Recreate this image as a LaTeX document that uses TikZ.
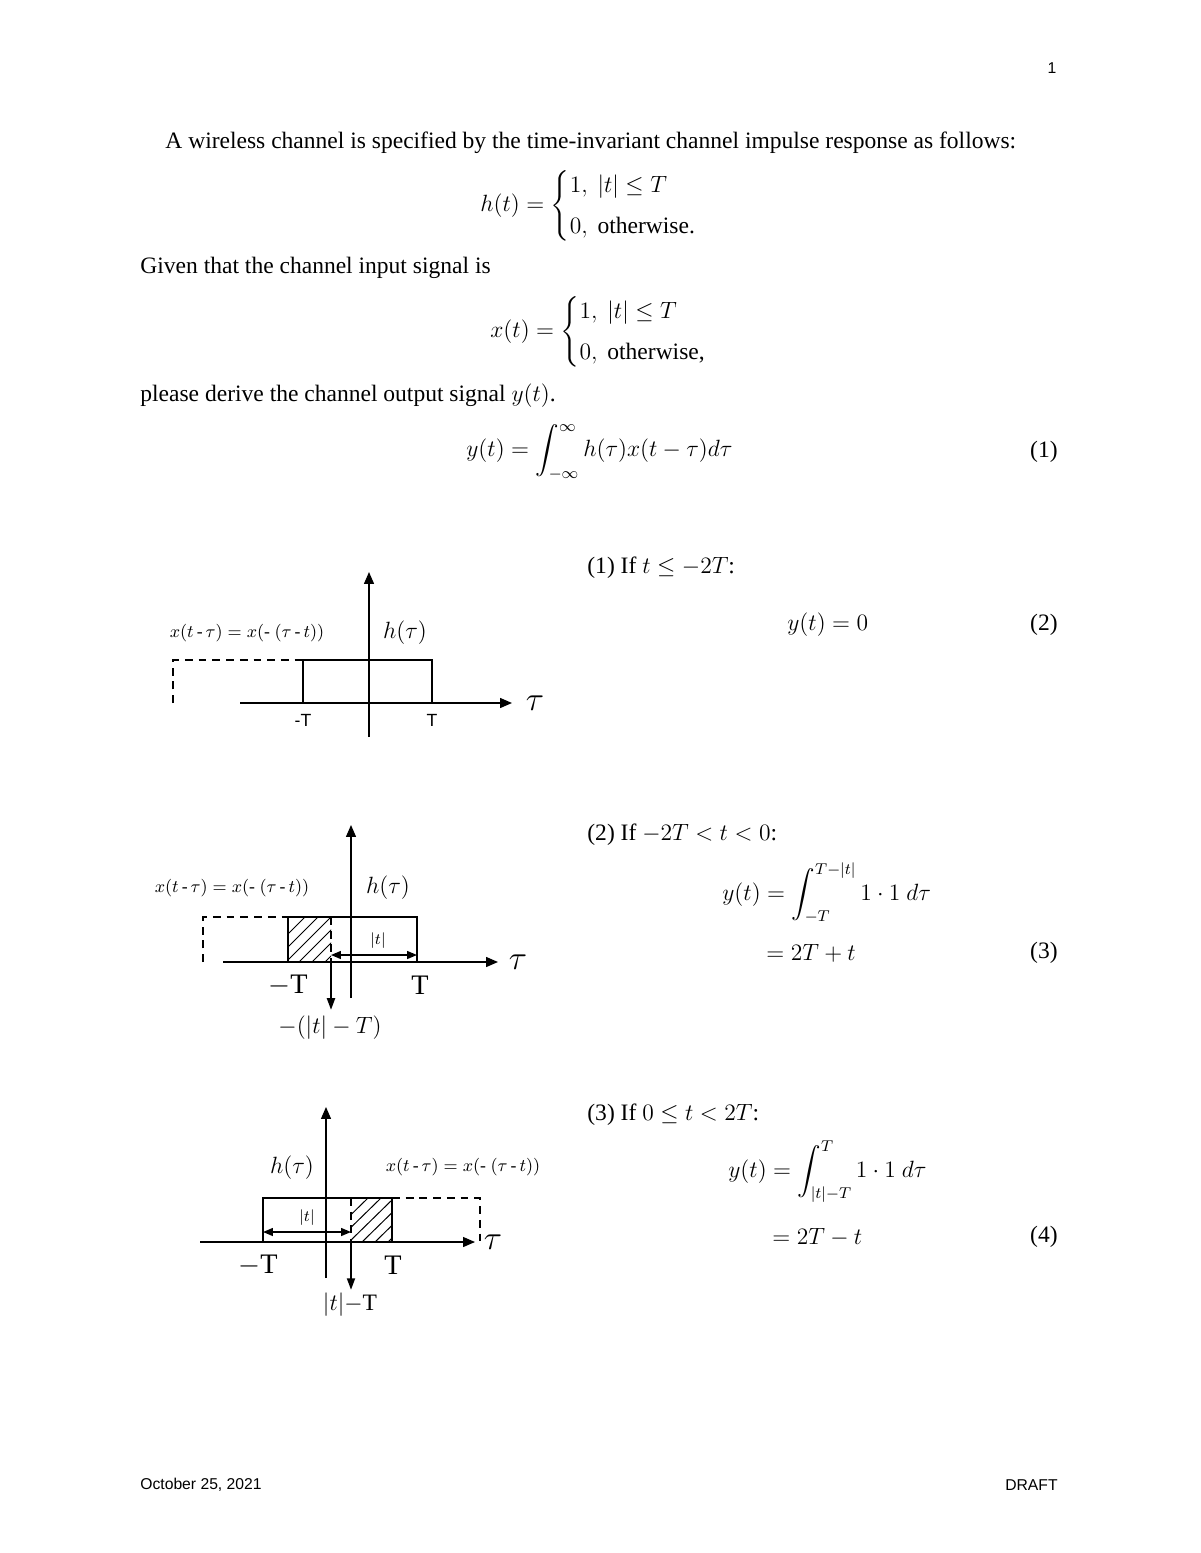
\documentclass[tikz,border=0pt]{standalone}
\usepackage{amsmath}
\usepackage{fontspec}
\setmainfont{Liberation Serif}
\setsansfont{Liberation Sans}
\usetikzlibrary{arrows.meta}
\begin{document}
\begin{tikzpicture}[x=0.51pt,y=-0.51pt,
  every node/.style={font=\fontsize{12}{15}\selectfont},
  ax/.style={-{Triangle[length=6pt,width=5pt]},line width=0.7pt},
  box/.style={line width=0.7pt},
  dsh/.style={dashed,line width=0.6pt,dash pattern=on 4pt off 3pt},
  lbl/.style={font=\small},
  big/.style={font=\Large},
  dim/.style={{Triangle[length=5pt,width=4pt]}-{Triangle[length=5pt,width=4pt]},line width=0.7pt},
  down/.style={-{Triangle[length=6pt,width=4pt]},line width=1.2pt},
  txt/.style={anchor=west,inner sep=0pt}]
\useasboundingbox (0,0) rectangle (1200,1553);
% header
\node[font=\footnotesize\sffamily] (pg) at (1052,68) {1};
\node[txt] (l1) at (165,143) {A wireless channel is specified by the time-invariant channel impulse response as follows:};
\node[txt] (hcase) at (480,206) {$h(t)=\begin{cases}1,\ |t|\le T\\[3pt] 0,\ \text{otherwise.}\end{cases}$};
\node[txt] (l2) at (140,268) {Given that the channel input signal is};
\node[txt] (xcase) at (490,332) {$x(t)=\begin{cases}1,\ |t|\le T\\[3pt] 0,\ \text{otherwise,}\end{cases}$};
\node[txt] (l3) at (140,396) {please derive the channel output signal $y(t)$.};
\node[txt] (e1) at (466,452) {$\displaystyle y(t)=\int_{-\infty}^{\infty}h(\tau)x(t-\tau)d\tau$};
\node[anchor=east,inner sep=0pt] (n1) at (1058,452) {(1)};
% diagram 1
\coordinate (v1a) at (369,737); \coordinate (v1b) at (369,572);
\coordinate (h1a) at (240,703); \coordinate (h1b) at (512,703);
\draw[ax] (v1a) -- (v1b);
\draw[ax] (h1a) -- (h1b);
\draw[box] (303,703) -- (303,660) -- (432,660) -- (432,703);
\draw[dsh] (173,703) -- (173,660) -- (303,660);
\draw[dsh,line width=1.2pt] (303,660) -- (303,703);
\node[lbl] (x1) at (247,633) {$x(t\,\text{-}\,\tau)=x(\text{-}\ (\tau\,\text{-}\,t))$};
\node[font=\large] (hh1) at (405,633) {$h(\tau)$};
\node[font=\small\sffamily] (mt1) at (303,720) {-T};
\node[font=\small\sffamily] (t1) at (432,720) {T};
\node[font=\LARGE] (tau1) at (535,703) {$\tau$};
\node[txt] (c1) at (587,568) {(1) If $t\le -2T$:};
\node[txt] (e2) at (787,625) {$y(t)=0$};
\node[anchor=east,inner sep=0pt] (n2) at (1058,625) {(2)};
% diagram 2
\begin{scope}
\clip (288,917) rectangle (331,962);
\foreach \i in {0,...,8} \draw[line width=0.5pt] (260+\i*13,962) -- (305+\i*13,917);
\end{scope}
\draw[ax] (351,998) -- (351,825);
\draw[ax] (223,962) -- (498,962);
\draw[box] (288,962) -- (288,917) -- (417,917) -- (417,962);
\draw[dsh] (203,962) -- (203,917) -- (288,917);
\draw[dsh] (331,917) -- (331,962);
\coordinate (d2a) at (331,955); \coordinate (d2b) at (417,955);
\draw[dim] (d2a) -- (d2b);
\node[font=\footnotesize] (abs2) at (378,941) {$|t|$};
\coordinate (dn2a) at (331,962); \coordinate (dn2b) at (331,1010);
\draw[down] (dn2a) -- (dn2b);
\node[lbl] (x2) at (232,888) {$x(t\,\text{-}\,\tau)=x(\text{-}\ (\tau\,\text{-}\,t))$};
\node[font=\large] (hh2) at (388,888) {$h(\tau)$};
\node[big] (mt2) at (288,985) {$-$T};
\node[big] (t2) at (420,985) {T};
\node[font=\LARGE] (tau2) at (518,962) {$\tau$};
\node (lab2) at (330,1028) {$-(|t|-T)$};
\node[txt] (c2) at (587,835) {(2) If $-2T<t<0$:};
\node[txt] (e3) at (722,893) {$\displaystyle y(t)=\int_{-T}^{T-|t|}1\cdot 1\ d\tau$};
\node[txt] (e3b) at (766,953) {$=2T+t$};
\node[anchor=east,inner sep=0pt] (n3) at (1058,953) {(3)};
% diagram 3
\begin{scope}
\clip (351,1198) rectangle (392,1242);
\foreach \i in {0,...,8} \draw[line width=0.5pt] (323+\i*13,1242) -- (368+\i*13,1198);
\end{scope}
\draw[ax] (326,1278) -- (326,1107);
\draw[ax] (200,1242) -- (475,1242);
\draw[box] (263,1242) -- (263,1198) -- (392,1198) -- (392,1242);
\draw[dsh] (392,1198) -- (480,1198) -- (480,1242);
\draw[dsh] (351,1198) -- (351,1242);
\coordinate (d3a) at (263,1232); \coordinate (d3b) at (351,1232);
\draw[dim] (d3a) -- (d3b);
\node[font=\footnotesize] (abs3) at (307,1218) {$|t|$};
\coordinate (dn3a) at (351,1242); \coordinate (dn3b) at (351,1290);
\draw[down] (dn3a) -- (dn3b);
\node[font=\large] (hh3) at (292,1168) {$h(\tau)$};
\node[lbl] (x3) at (463,1167) {$x(t\,\text{-}\,\tau)=x(\text{-}\ (\tau\,\text{-}\,t))$};
\node[big] (mt3) at (258,1265) {$-$T};
\node[big] (t3) at (393,1265) {T};
\node[font=\LARGE] (tau3) at (493,1242) {$\tau$};
\node[font=\large] (lab3) at (350,1305) {$|t|$$-$T};
\node[txt] (c3) at (587,1115) {(3) If $0\le t<2T$:};
\node[txt] (e4) at (728,1172) {$\displaystyle y(t)=\int_{|t|-T}^{T}1\cdot 1\ d\tau$};
\node[txt] (e4b) at (772,1237) {$=2T-t$};
\node[anchor=east,inner sep=0pt] (n4) at (1058,1237) {(4)};
% footer
\node[txt,font=\footnotesize\sffamily] (f1) at (140,1485) {October 25, 2021};
\node[anchor=east,inner sep=0pt,font=\footnotesize\sffamily] (f2) at (1058,1485) {DRAFT};
\end{tikzpicture}
\end{document}
